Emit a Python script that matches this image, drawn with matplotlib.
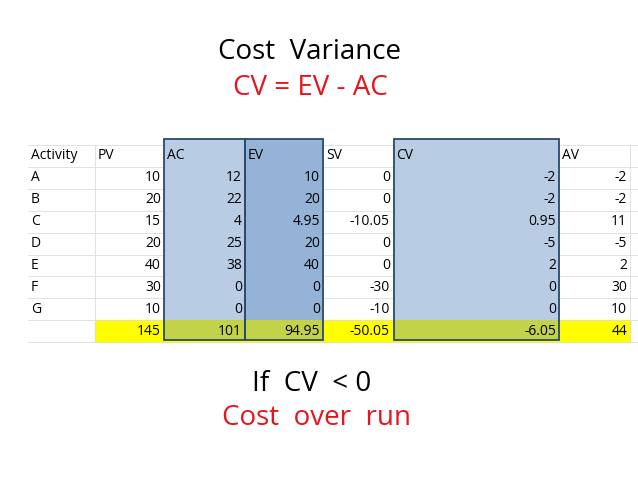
import matplotlib.pyplot as plt
from matplotlib.patches import Rectangle

headers = ['Activity', 'PV', 'AC', 'EV', 'SV', 'CV', 'AV']
activities = ['A', 'B', 'C', 'D', 'E', 'F', 'G', '']
pv = ['10', '20', '15', '20', '40', '30', '10', '145']
ac = ['12', '22', '4', '25', '38', '0', '0', '101']
ev = ['10', '20', '4.95', '20', '40', '0', '0', '94.95']
sv = ['0', '0', '-10.05', '0', '0', '-30', '-10', '-50.05']
cv = ['-2', '-2', '0.95', '-5', '2', '0', '0', '-6.05']
av = ['-2', '-2', '11', '-5', '2', '30', '10', '44']

# column edges (pixels)
col_x = [28, 95, 164, 245, 323, 393, 559, 630]
row_top = 145
row_h = 21.9

fig = plt.figure(figsize=(6.38, 4.78), dpi=100)
ax = fig.add_axes([0, 0, 1, 1])
ax.set_xlim(0, 638)
ax.set_ylim(478, 0)
ax.axis('off')

font = 'Open Sans'
ax.text(310, 52, 'Cost  Variance', ha='center', va='center', fontsize=20, family=font)
ax.text(310, 88, 'CV = EV - AC', ha='center', va='center', fontsize=20, family=font, color='#e8141c')
ax.text(312, 384, 'If  CV  < 0', ha='center', va='center', fontsize=20, family=font)
ax.text(316, 418, 'Cost  over  run', ha='center', va='center', fontsize=20, family=font, color='#e8141c')

n_rows = len(activities) + 1
# grid lines
for i in range(n_rows + 1):
    y = row_top + i * row_h
    ax.plot([28, 638], [y, y], color='#dcdcdc', lw=0.6)
for x in col_x[1:]:
    ax.plot([x, x], [row_top, row_top + n_rows * row_h], color='#dcdcdc', lw=0.6)

# yellow total row
ty = row_top + (n_rows - 1) * row_h
ax.add_patch(Rectangle((95, ty), 535, row_h, color='#ffff00', zorder=1))

# highlight boxes
box_top, box_bot = 139, row_top + n_rows * row_h - 2
for x0, x1, c in [(164, 245, '#b8cce4'), (245, 323, '#95b3d7'), (394, 559, '#b8cce4')]:
    ax.add_patch(Rectangle((x0, box_top), x1 - x0, box_bot - box_top, facecolor=c,
                           edgecolor='none', zorder=2))
    ax.add_patch(Rectangle((x0, ty), x1 - x0, box_bot - ty, facecolor='#c2d34a',
                           edgecolor='none', zorder=2))
    ax.add_patch(Rectangle((x0, box_top), x1 - x0, box_bot - box_top, facecolor='none',
                           edgecolor='#2a4a6e', lw=1.3, zorder=2.5))

cols = [activities, pv, ac, ev, sv, cv, av]
fs = 10
for j, h in enumerate(headers):
    ax.text(col_x[j] + 3, row_top + row_h / 2, h, ha='left', va='center', fontsize=fs, family=font, zorder=3)
for j, col in enumerate(cols):
    for i, v in enumerate(col):
        y = row_top + (i + 1.5) * row_h
        if j == 0:
            ax.text(col_x[0] + 3, y, v, ha='left', va='center', fontsize=fs, family=font, zorder=3)
        else:
            ax.text(col_x[j + 1] - 3, y, v, ha='right', va='center', fontsize=fs, family=font, zorder=3)

fig.savefig('out.png', dpi=100)
